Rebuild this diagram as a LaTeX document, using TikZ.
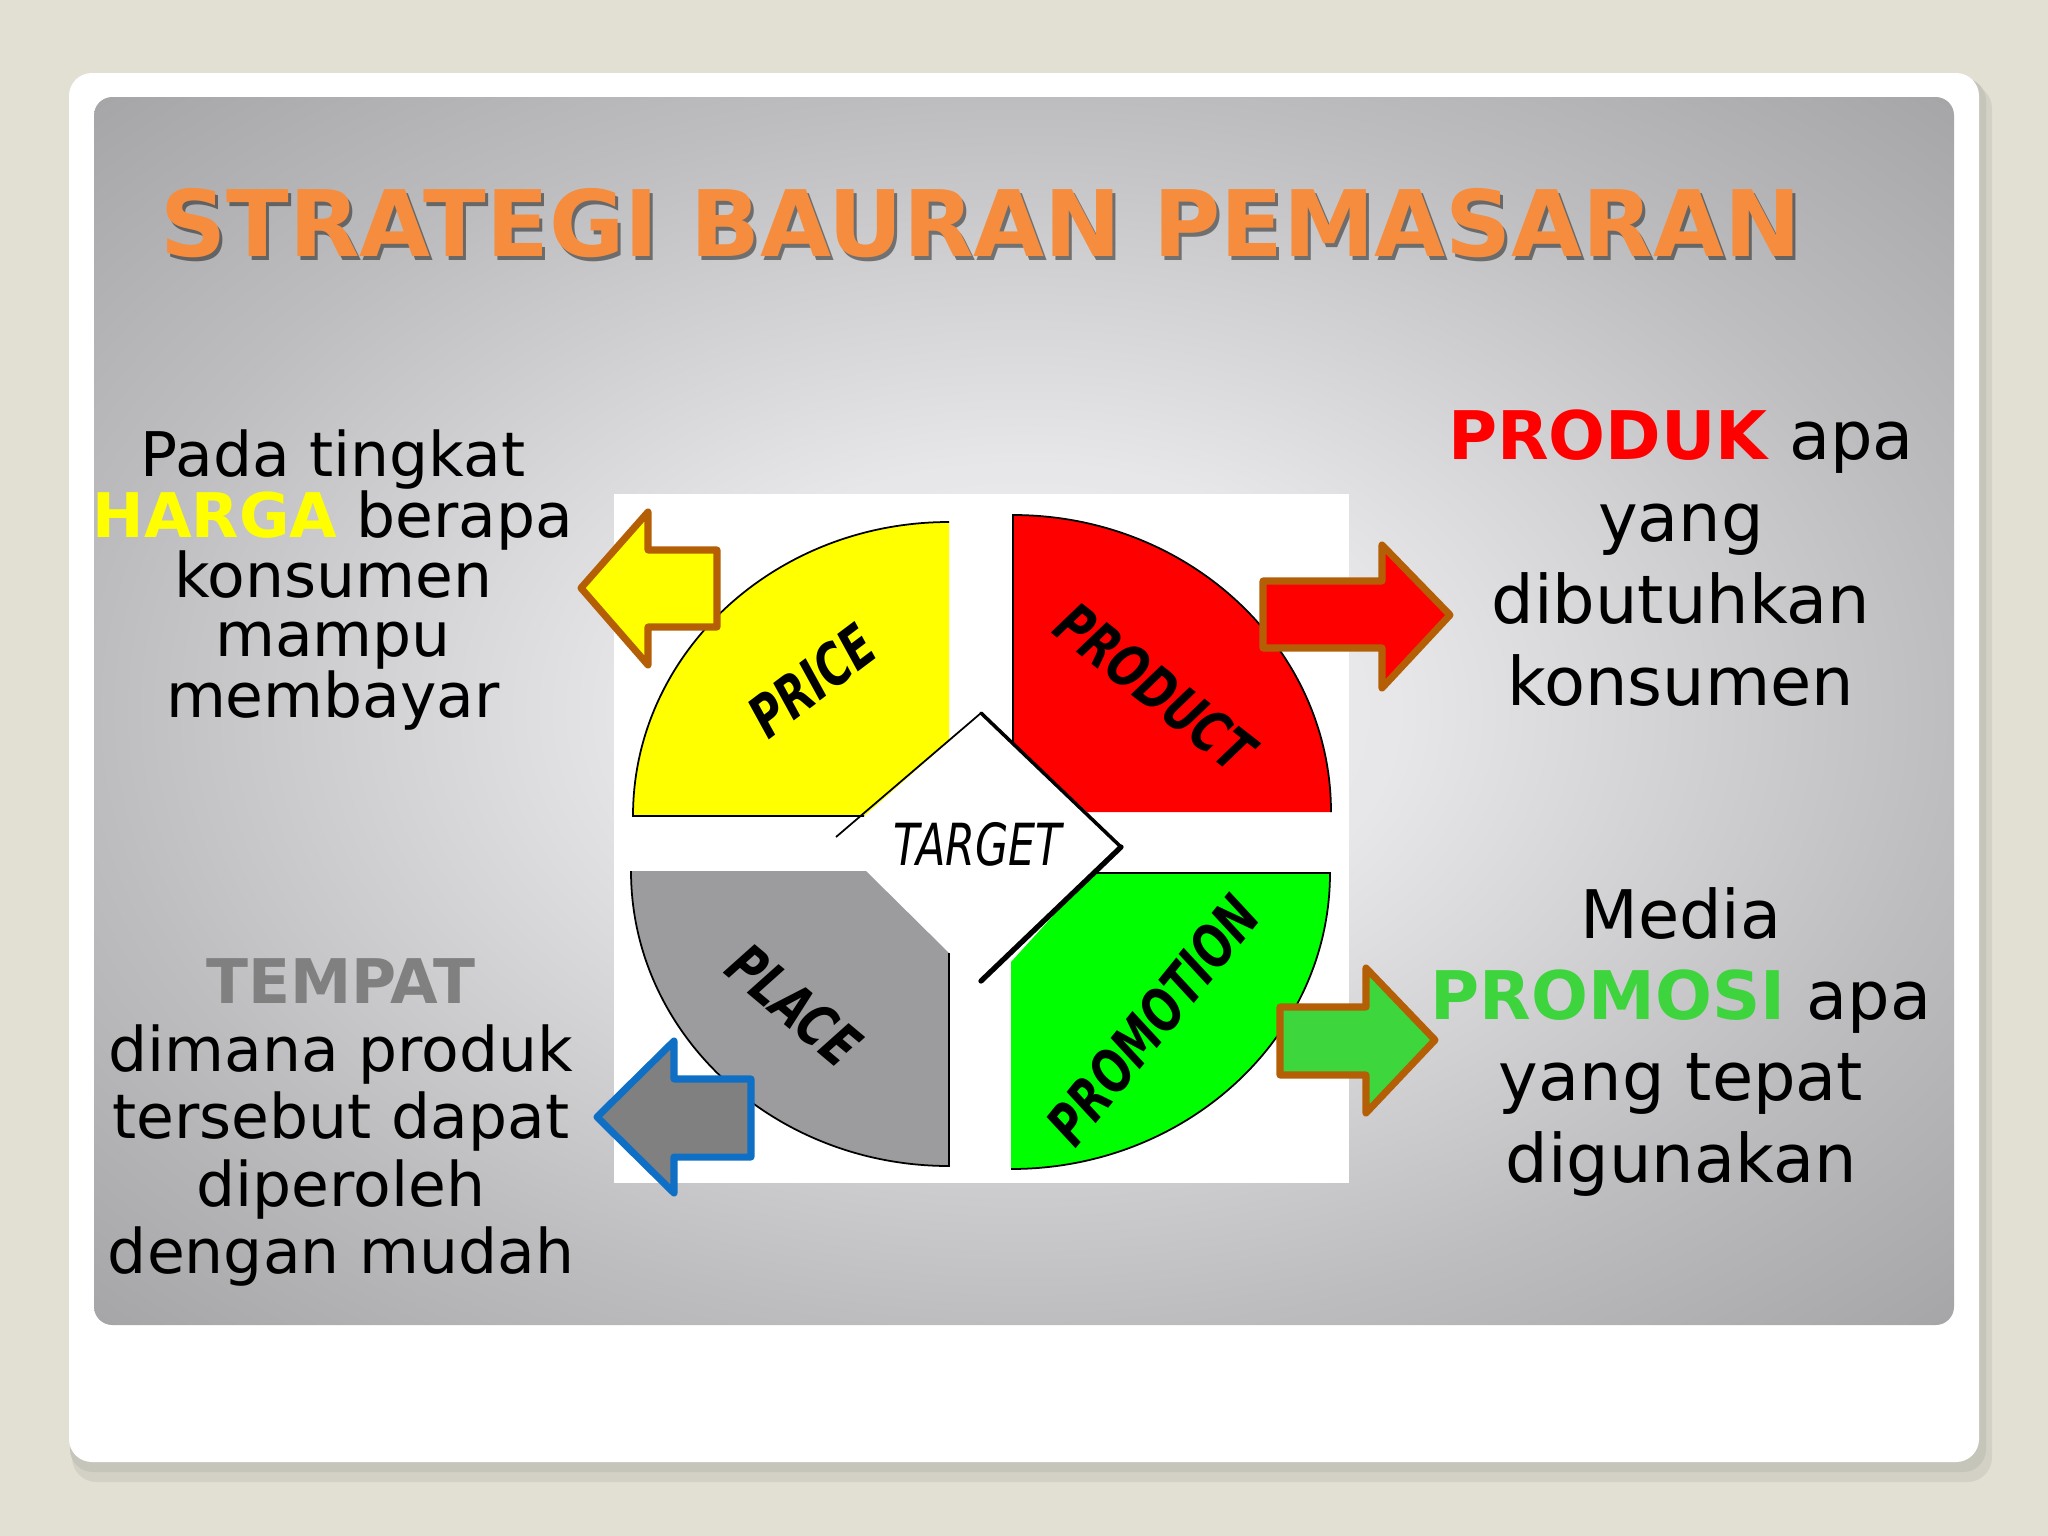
\documentclass[tikz,border=0pt]{standalone}
\usepackage{fontspec}
\setmainfont{DejaVu Sans}
\newfontfamily\handfont[FakeStretch=0.74]{DejaVu Sans}
\definecolor{pagebg}{HTML}{E2DFD3}
\definecolor{shadowA}{HTML}{D3D1C5}
\definecolor{shadowB}{HTML}{C6C5B9}
\definecolor{pc0}{HTML}{EEEEF0}
\definecolor{pc1}{HTML}{E7E7E9}
\definecolor{pc2}{HTML}{BDBDBF}
\definecolor{pc3}{HTML}{A4A4A6}
\definecolor{titleorange}{HTML}{F68D3E}
\definecolor{qyellow}{HTML}{FFFF00}
\definecolor{qred}{HTML}{FF0000}
\definecolor{qgray}{HTML}{9C9B9D}
\definecolor{qgreen}{HTML}{00FF00}
\definecolor{arrowbrown}{HTML}{B45F06}
\definecolor{arrowblue}{HTML}{0E6FC5}
\definecolor{arrowgray}{HTML}{808080}
\definecolor{arrowgreen}{HTML}{3DD63D}
\definecolor{hargayellow}{HTML}{FFFF00}
\definecolor{tempatgray}{HTML}{808080}
\definecolor{produkred}{HTML}{FF0000}
\definecolor{promosigreen}{HTML}{3ED43E}
\pgfdeclareradialshading{panelshade}{\pgfpoint{0bp}{0bp}}{color(0bp)=(pc0); color(10bp)=(pc1); color(25bp)=(pc2); color(36bp)=(pc3); color(50bp)=(pc3)}
\tikzset{
  titletext/.style={anchor=base, inner sep=0pt, text=titleorange, font=\fontsize{26.1}{30}\selectfont\bfseries},
  titleshade/.style={anchor=base, inner sep=0pt, text=black, opacity=0.45, font=\fontsize{26.1}{30}\selectfont\bfseries},
  lefttxt/.style={anchor=base, inner sep=0pt, font=\fontsize{17.5}{21}\selectfont},
  righttxt/.style={anchor=base, inner sep=0pt, font=\fontsize{19.06}{23}\selectfont},
  handlabel/.style={inner sep=0pt, font=\fontsize{16.5}{20}\selectfont\handfont\bfseries\itshape},
  handthin/.style={inner sep=0pt, font=\fontsize{16.5}{20}\selectfont\handfont\itshape},
  qline/.style={draw=black, line width=0.5pt},
  blockarrow/.style={line width=2pt, line join=round},
}
\begin{document}
\begin{tikzpicture}[x=0.01cm,y=0.01cm]
\useasboundingbox (0,0) rectangle (2048,-1536);
% page background
\fill[pagebg] (0,0) rectangle (2048,-1536);
% card shadow
\fill[shadowA, rounded corners=7pt] (72,-84) rectangle (1992,-1482);
\fill[shadowB, rounded corners=6.5pt] (70,-78) rectangle (1986,-1472);
% white card
\fill[white, rounded corners=6.5pt] (69,-73) rectangle (1979,-1462);
% gray gradient panel
\shade[shading=panelshade, rounded corners=5.2pt] (94,-97) rectangle (1954,-1325);

% title with shadow
\node[titleshade] (titleshadow) at (984,-260) {STRATEGI BAURAN PEMASARAN};
\node[titletext] (title) at (981,-256) {STRATEGI BAURAN PEMASARAN};

% white picture area
\fill[white] (614,-494) rectangle (1349,-1183);

% quadrants
\fill[qyellow] (864,-816) -- (633,-816) arc[start angle=180, end angle=90, x radius=316, y radius=294] -- (949,-741) -- cycle;
\draw[qline] (864,-816) -- (633,-816) arc[start angle=180, end angle=90, x radius=316, y radius=294];

\fill[qred] (1013,-742) -- (1013,-515) arc[start angle=90, end angle=0, x radius=318, y radius=297] -- (1087,-812) -- cycle;
\draw[qline] (1013,-742) -- (1013,-515) arc[start angle=90, end angle=0, x radius=318, y radius=297];

\fill[qgray] (866,-871) -- (631,-871) arc[start angle=180, end angle=270, x radius=318, y radius=295] -- (949,-953) -- cycle;
\draw[qline] (631,-871) arc[start angle=180, end angle=270, x radius=318, y radius=295] -- (949,-953);

\fill[qgreen] (1092,-873) -- (1330,-873) arc[start angle=0, end angle=-90, x radius=319, y radius=296] -- (1011,-962) -- cycle;
\draw[qline] (1092,-873) -- (1330,-873) arc[start angle=0, end angle=-90, x radius=319, y radius=296];

% target diamond
\coordinate (dtop) at (981,-713);
\coordinate (dright) at (1121,-847);
\coordinate (dbottom) at (981,-981);
\coordinate (dleft) at (836,-837);
\draw[line width=0.5pt] (dleft) -- (dtop);
\draw[line width=1pt, line cap=round] (dtop) -- (dright);
\draw[line width=1.5pt, line cap=round] (dright) -- (dbottom);

% quadrant labels
\node[handlabel, rotate=37] (price) at (812,-681) {PRICE};
\node[handlabel, rotate=-38] (product) at (1155,-687) {PRODUCT};
\node[handlabel, rotate=-40] (place) at (794,-1005) {PLACE};
\node[handlabel, rotate=51] (promotion) at (1153,-1020) {PROMOTION};
\node[handthin] (target) at (978,-844) {TARGET};

% block arrows
\draw[blockarrow, draw=arrowbrown, fill=qyellow] (581,-588) -- (648,-512) -- (648,-550) -- (717,-550) -- (717,-627) -- (648,-627) -- (648,-665) -- cycle;
\draw[blockarrow, draw=arrowbrown, fill=qred] (1263,-581) -- (1382,-581) -- (1382,-545) -- (1450,-615) -- (1382,-688) -- (1382,-648) -- (1263,-648) -- cycle;
\draw[blockarrow, draw=arrowbrown, fill=arrowgreen] (1280,-1007) -- (1366,-1007) -- (1366,-968) -- (1435,-1040) -- (1366,-1113) -- (1366,-1075) -- (1280,-1075) -- cycle;
\draw[blockarrow, draw=arrowblue, fill=arrowgray] (597,-1117) -- (674,-1041) -- (674,-1079) -- (751,-1079) -- (751,-1157) -- (674,-1157) -- (674,-1193) -- cycle;

% left top text
\node[lefttxt] (lt1) at (333,-476) {Pada tingkat};
\node[lefttxt] (lt2) at (333,-537) {{\color{hargayellow}\bfseries HARGA} berapa};
\node[lefttxt] (lt3) at (333,-597) {konsumen};
\node[lefttxt] (lt4) at (333,-656) {mampu};
\node[lefttxt] (lt5) at (333,-717) {membayar};

% left bottom text
\node[lefttxt] (lb1) at (341,-1003) {\color{tempatgray}\bfseries TEMPAT};
\node[lefttxt] (lb2) at (341,-1071) {dimana produk};
\node[lefttxt] (lb3) at (341,-1138) {tersebut dapat};
\node[lefttxt] (lb4) at (341,-1206) {diperoleh};
\node[lefttxt] (lb5) at (341,-1273) {dengan mudah};

% right top text
\node[righttxt] (rt1) at (1681,-459) {{\color{produkred}\bfseries PRODUK} apa};
\node[righttxt] (rt2) at (1681,-541) {yang};
\node[righttxt] (rt3) at (1681,-623) {dibutuhkan};
\node[righttxt] (rt4) at (1681,-705) {konsumen};

% right bottom text
\node[righttxt] (rb1) at (1681,-938) {Media};
\node[righttxt] (rb2) at (1681,-1019) {{\color{promosigreen}\bfseries PROMOSI} apa};
\node[righttxt] (rb3) at (1681,-1100) {yang tepat};
\node[righttxt] (rb4) at (1681,-1182) {digunakan};
\end{tikzpicture}
\end{document}
